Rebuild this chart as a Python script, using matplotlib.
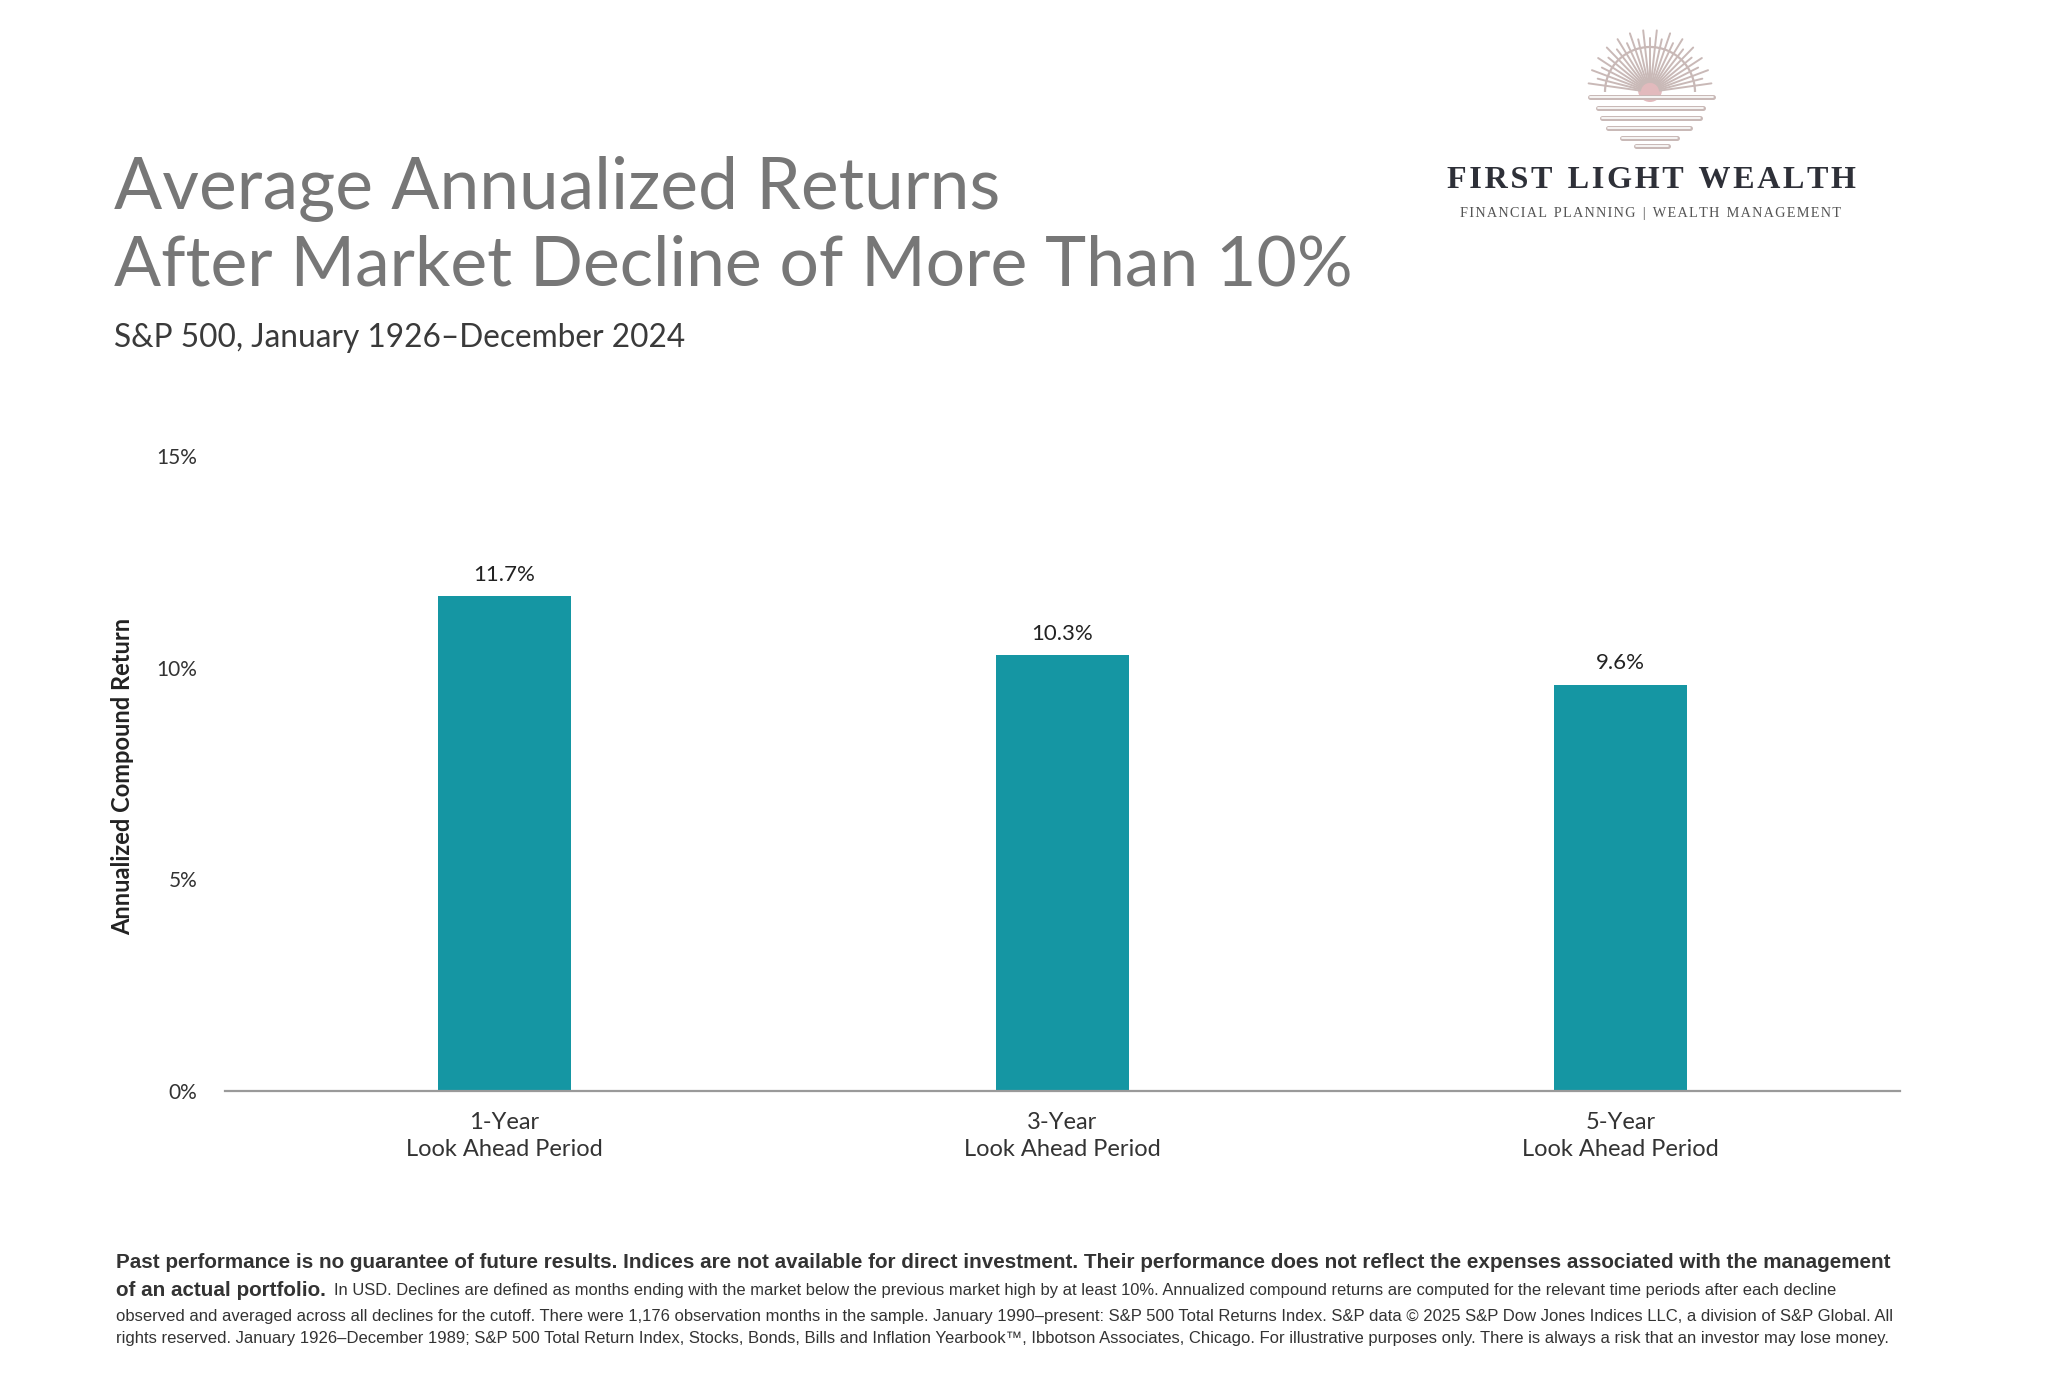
import numpy as np
import matplotlib
matplotlib.use("Agg")
import matplotlib.pyplot as plt
from matplotlib.patches import Circle, Arc

# ---------------- data ----------------
periods = ["1-Year\nLook Ahead Period", "3-Year\nLook Ahead Period", "5-Year\nLook Ahead Period"]
returns = [11.7, 10.3, 9.6]
value_labels = ["11.7%", "10.3%", "9.6%"]
yticks = [0, 5, 10, 15]
ytick_labels = ["0%", "5%", "10%", "15%"]

title_lines = ["Average Annualized Returns", "After Market Decline of More Than 10%"]
subtitle = "S&P 500, January 1926\u2013December 2024"
ylabel = "Annualized Compound Return"
foot_bold1 = ("Past performance is no guarantee of future results. Indices are not available for direct investment. "
              "Their performance does not reflect the expenses associated with the management")
foot_bold2 = "of an actual portfolio."
foot_reg2 = ("In USD. Declines are defined as months ending with the market below the previous market high by at least 10%. "
             "Annualized compound returns are computed for the relevant time periods after each decline")
foot_reg3 = ("observed and averaged across all declines for the cutoff. There were 1,176 observation months in the sample. "
             "January 1990\u2013present: S&P 500 Total Returns Index. S&P data \u00a9 2025 S&P Dow Jones Indices LLC, a division of S&P Global. All")
foot_reg4 = ("rights reserved. January 1926\u2013December 1989; S&P 500 Total Return Index, Stocks, Bonds, Bills and Inflation "
             "Yearbook\u2122, Ibbotson Associates, Chicago. For illustrative purposes only. There is always a risk that an investor may lose money.")
logo_name = "FIRST LIGHT WEALTH"
logo_tag = "FINANCIAL PLANNING | WEALTH MANAGEMENT"

W, H = 2048, 1398
fig = plt.figure(figsize=(W / 100, H / 100), dpi=100)
fig.patch.set_facecolor("white")

SANS = ["Lato", "DejaVu Sans"]
NARROW = ["Liberation Sans Narrow", "Liberation Sans", "DejaVu Sans"]
SERIF = ["Liberation Serif", "DejaVu Serif"]

def fx(px):
    return px / W

def fy(py):
    return 1 - py / H

renderer = fig.canvas.get_renderer()

def fit_text(xpx, ypx, s, target_w, size0, **kw):
    t = fig.text(fx(xpx), fy(ypx), s, fontsize=size0, **kw)
    for _ in range(4):
        bb = t.get_window_extent(renderer=renderer)
        if bb.width > 0:
            t.set_fontsize(t.get_fontsize() * target_w / bb.width)
    return t

def spaced(s, sep):
    return sep.join(list(s)).replace(sep + " " + sep, "  ")

# ---------------- axes ----------------
ax = fig.add_axes([fx(225), fy(1091), fx(1900) - fx(225), (1091 - 456) / H])
x = np.arange(len(returns))
ax.bar(x, returns, width=0.238, color="#1596a3", zorder=2)
ax.set_xlim(-0.5, 2.5)
ax.set_ylim(0, 15)
ax.set_yticks(yticks)
ax.set_yticklabels(ytick_labels)
ax.set_xticks(x)
ax.set_xticklabels(periods, linespacing=1.35)
for sp in ["top", "right", "left"]:
    ax.spines[sp].set_visible(False)
ax.spines["bottom"].set_color("#9a9a9a")
ax.spines["bottom"].set_linewidth(1.6)
ax.tick_params(axis="y", length=0, pad=20, labelsize=15, labelcolor="#333333")
ax.tick_params(axis="x", length=0, pad=15, labelsize=17, labelcolor="#333333")
for lab in ax.get_yticklabels() + ax.get_xticklabels():
    lab.set_family(SANS)
for xi, v, lbl in zip(x, returns, value_labels):
    ax.annotate(lbl, (xi, v), xytext=(0, 8), textcoords="offset points",
                ha="center", va="bottom", fontsize=16, color="#222222", family=SANS)
fig.text(fx(123), fy(776), ylabel, rotation=90, ha="center", va="center",
         fontsize=17, fontweight="bold", color="#222222", family=SANS)

# ---------------- titles ----------------
fit_text(114, 209, title_lines[0], 885, 50, color="#777777", family=SANS, va="baseline")
fit_text(114, 285, title_lines[1], 1240, 50, color="#777777", family=SANS, va="baseline")
fit_text(114, 338, subtitle, 572, 20, color="#3a3a3a", family=SANS, va="center")

# ---------------- logo ----------------
cx, cy = 1650, 92
logo_c = "#c9b9b7"
lax = fig.add_axes([0, 0, 1, 1], zorder=5)
lax.set_xlim(0, W)
lax.set_ylim(H, 0)
lax.axis("off")
lax.patch.set_alpha(0)
n_rays = 27
for i in range(n_rays):
    ang = np.deg2rad(8 + i * (164 / (n_rays - 1)))
    r1 = 10
    r2 = 62 if i % 2 == 0 else 54
    lax.plot([cx + r1 * np.cos(ang), cx + r2 * np.cos(ang)],
             [cy - r1 * np.sin(ang), cy - r2 * np.sin(ang)], color=logo_c, lw=1.4, solid_capstyle="round")
lax.add_patch(Arc((cx, cy), 90, 90, theta1=180, theta2=360, color=logo_c, lw=1.6))
lax.add_patch(Circle((cx, cy - 2), 12, color="#dba9ad", alpha=0.8, lw=0))
hl = [(97, 1590, 1713), (108, 1598, 1703), (118, 1602, 1700), (128, 1608, 1690), (138, 1622, 1677), (146, 1636, 1668)]
for yy, x0, x1 in hl:
    lax.plot([x0, x1], [yy, yy], color=logo_c, lw=3.6, solid_capstyle="round")
    lax.plot([x0, x1], [yy, yy], color="white", lw=1.2, solid_capstyle="round")
fit_text(1651, 180, spaced(logo_name, "\u200a"), 410, 22,
         color="#2e3038", family=SERIF, fontweight="bold", ha="center", va="center")
fit_text(1650, 213, spaced(logo_tag, "\u200a"), 380, 9,
         color="#555555", family=SERIF, ha="center", va="center")

# ---------------- footnote ----------------
fit_text(116, 1262, foot_bold1, 1774, 14, color="#333333", family=NARROW, fontweight="bold", va="center")
tb = fit_text(116, 1290, foot_bold2, 210, 14, color="#333333", family=NARROW, fontweight="bold", va="center")
bb = tb.get_window_extent(renderer=renderer)
start = bb.x1 + 8
fit_text(start, 1291, foot_reg2, 1835 - start, 11, color="#333333", family=NARROW, va="center")
fit_text(116, 1316, foot_reg3, 1774, 11, color="#333333", family=NARROW, va="center")
fit_text(116, 1339, foot_reg4, 1769, 11, color="#333333", family=NARROW, va="center")

fig.savefig("out.png", dpi=100, facecolor="white")
